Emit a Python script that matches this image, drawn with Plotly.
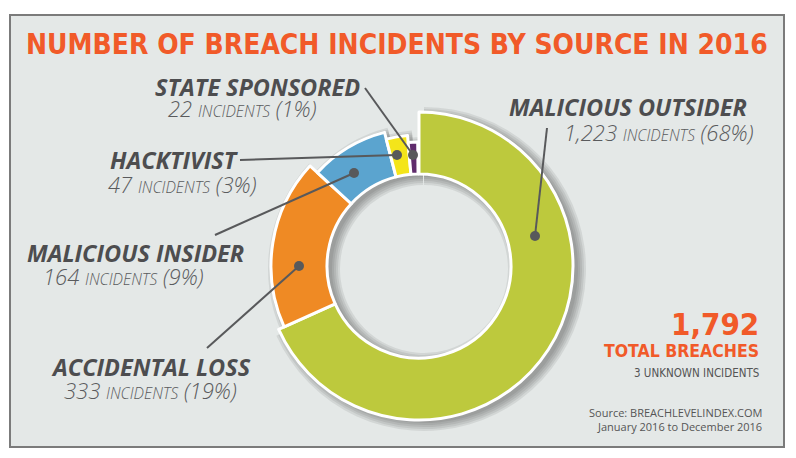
import plotly.graph_objects as go

# ---------------- data ----------------
categories = ["MALICIOUS OUTSIDER", "ACCIDENTAL LOSS", "MALICIOUS INSIDER", "HACKTIVIST", "STATE SPONSORED"]
incidents = [1223, 333, 164, 47, 22]
unknown_label = "UNKNOWN"
unknown_incidents = 3
total_breaches = 1792
title_text = "NUMBER OF BREACH INCIDENTS BY SOURCE IN 2016"
source_lines = ["Source: BREACHLEVELINDEX.COM", "January 2016 to December 2016"]

# ---------------- style ----------------
W, H = 796, 458
slice_colors = ["#bdc93d", "#ef8a24", "#5ba4cf", "#f4e51a", "#5f2b6c"]
slice_radius = [154, 148, 138, 131, 124]  # outer radius (px) per slice
R_IN = 92
CX, CY = 419, 266
BG = "#e4e8e7"
ORANGE = "#f15a29"
DARK = "#4d4d4f"
LINE = "#58595b"

# label placement (px): name line (left x, center y), value line (left x, center y), dot (x, y), leader start (x, y)
label_pos = {
    "MALICIOUS OUTSIDER": ((508, 107), (563, 132), (535, 236), (547, 128)),
    "ACCIDENTAL LOSS": ((50, 367), (63, 390), (299, 266), (207, 348)),
    "MALICIOUS INSIDER": ((26, 253), (42, 276), (354, 173), (215, 235)),
    "HACKTIVIST": ((109, 160), (107, 184), (397, 155), (240, 160)),
    "STATE SPONSORED": ((154, 87), (167, 108), (413, 155), (365, 88)),
}


def px(x):
    return x / W


def py(y):
    return 1 - y / H


def dom(cx, cy, r):
    return dict(x=[(cx - r) / W, (cx + r) / W], y=[1 - (cy + r) / H, 1 - (cy - r) / H])


values = incidents + [unknown_incidents]
labels = categories + [unknown_label]
n = len(values)

fig = go.Figure()

# soft shadow layers
SH_DX, SH_DY = 5, 3
for s in [0, 2, 4, 6, 8]:
    for i in range(len(incidents)):
        cols = ["rgba(0,0,0,0)"] * n
        cols[i] = "rgba(60,60,60,0.1)"
        r = slice_radius[i] + s
        fig.add_trace(go.Pie(
            values=values, labels=labels, sort=False, direction="clockwise", rotation=0,
            hole=(R_IN - s) / r, domain=dom(CX + SH_DX, CY + SH_DY, r),
            marker=dict(colors=cols, line=dict(width=0)),
            textinfo="none", hoverinfo="skip", showlegend=False,
        ))

# the slices themselves
for i in range(len(incidents)):
    cols = ["rgba(0,0,0,0)"] * n
    cols[i] = slice_colors[i]
    widths = [0] * n
    widths[i] = 3
    r = slice_radius[i]
    fig.add_trace(go.Pie(
        values=values, labels=labels, sort=False, direction="clockwise", rotation=0,
        hole=R_IN / r, domain=dom(CX, CY, r),
        marker=dict(colors=cols, line=dict(color="white", width=widths)),
        textinfo="none", hoverinfo="label+value", showlegend=False,
    ))

shapes = [
    dict(type="rect", xref="paper", yref="paper", x0=px(10), x1=px(784), y0=py(447), y1=py(15),
         fillcolor=BG, line=dict(color="#7b7b7b", width=2), layer="below"),
]
annotations = []

annotations.append(dict(
    text=title_text, x=px(397), y=py(44), xref="paper", yref="paper", showarrow=False,
    xanchor="center", yanchor="middle", borderpad=0,
    font=dict(family="DejaVu Sans Condensed", size=28, color=ORANGE, weight="bold"),
))

for cat, v in zip(categories, incidents):
    (nx, ny), (vx, vy), (dx, dy), (lx, ly) = label_pos[cat]
    pct = round(v / total_breaches * 100)
    annotations.append(dict(
        text=cat, x=px(nx), y=py(ny), xref="paper", yref="paper", showarrow=False,
        xanchor="left", yanchor="middle", borderpad=0,
        font=dict(family="Open Sans", size=23.5, color=DARK, weight="bold", style="italic"),
    ))
    annotations.append(dict(
        text=f"{v:,} <span style='font-size:15.5px'>INCIDENTS</span> ({pct}%)",
        x=px(vx), y=py(vy), xref="paper", yref="paper", showarrow=False,
        xanchor="left", yanchor="middle", borderpad=0,
        font=dict(family="Open Sans", size=22, color="#5a5b5d", weight=300, style="italic"),
    ))
    shapes.append(dict(type="line", xref="paper", yref="paper", x0=px(lx), y0=py(ly), x1=px(dx), y1=py(dy),
                       line=dict(color=LINE, width=2)))
    rr = 5
    shapes.append(dict(type="circle", xref="paper", yref="paper", x0=px(dx - rr), x1=px(dx + rr),
                       y0=py(dy + rr), y1=py(dy - rr), fillcolor=LINE, line=dict(width=0)))

annotations += [
    dict(text=f"{total_breaches:,}", x=px(760), y=py(324), xref="paper", yref="paper", showarrow=False,
         xanchor="right", yanchor="middle", borderpad=0,
         font=dict(family="DejaVu Sans Condensed", size=31, color=ORANGE, weight="bold")),
    dict(text="TOTAL BREACHES", x=px(760), y=py(351), xref="paper", yref="paper", showarrow=False,
         xanchor="right", yanchor="middle", borderpad=0,
         font=dict(family="DejaVu Sans Condensed", size=17.5, color=ORANGE, weight="bold")),
    dict(text=f"{unknown_incidents} {unknown_label} INCIDENTS", x=px(760), y=py(373), xref="paper", yref="paper",
         showarrow=False, xanchor="right", yanchor="middle", borderpad=0,
         font=dict(family="DejaVu Sans Condensed", size=11.5, color="#555555")),
    dict(text=source_lines[0], x=px(763), y=py(412), xref="paper", yref="paper", showarrow=False,
         xanchor="right", yanchor="middle", borderpad=0, font=dict(family="Open Sans", size=11, color="#555555")),
    dict(text=source_lines[1], x=px(763), y=py(426), xref="paper", yref="paper", showarrow=False,
         xanchor="right", yanchor="middle", borderpad=0, font=dict(family="Open Sans", size=11, color="#555555")),
]

fig.update_layout(
    width=W, height=H, margin=dict(l=0, r=0, t=0, b=0),
    paper_bgcolor="white", plot_bgcolor="white", showlegend=False,
    shapes=shapes, annotations=annotations,
)

fig.write_html(
    "out.html",
    config={"displayModeBar": False},
    post_script="document.body.style.margin='0';document.body.style.overflow='hidden';",
)
